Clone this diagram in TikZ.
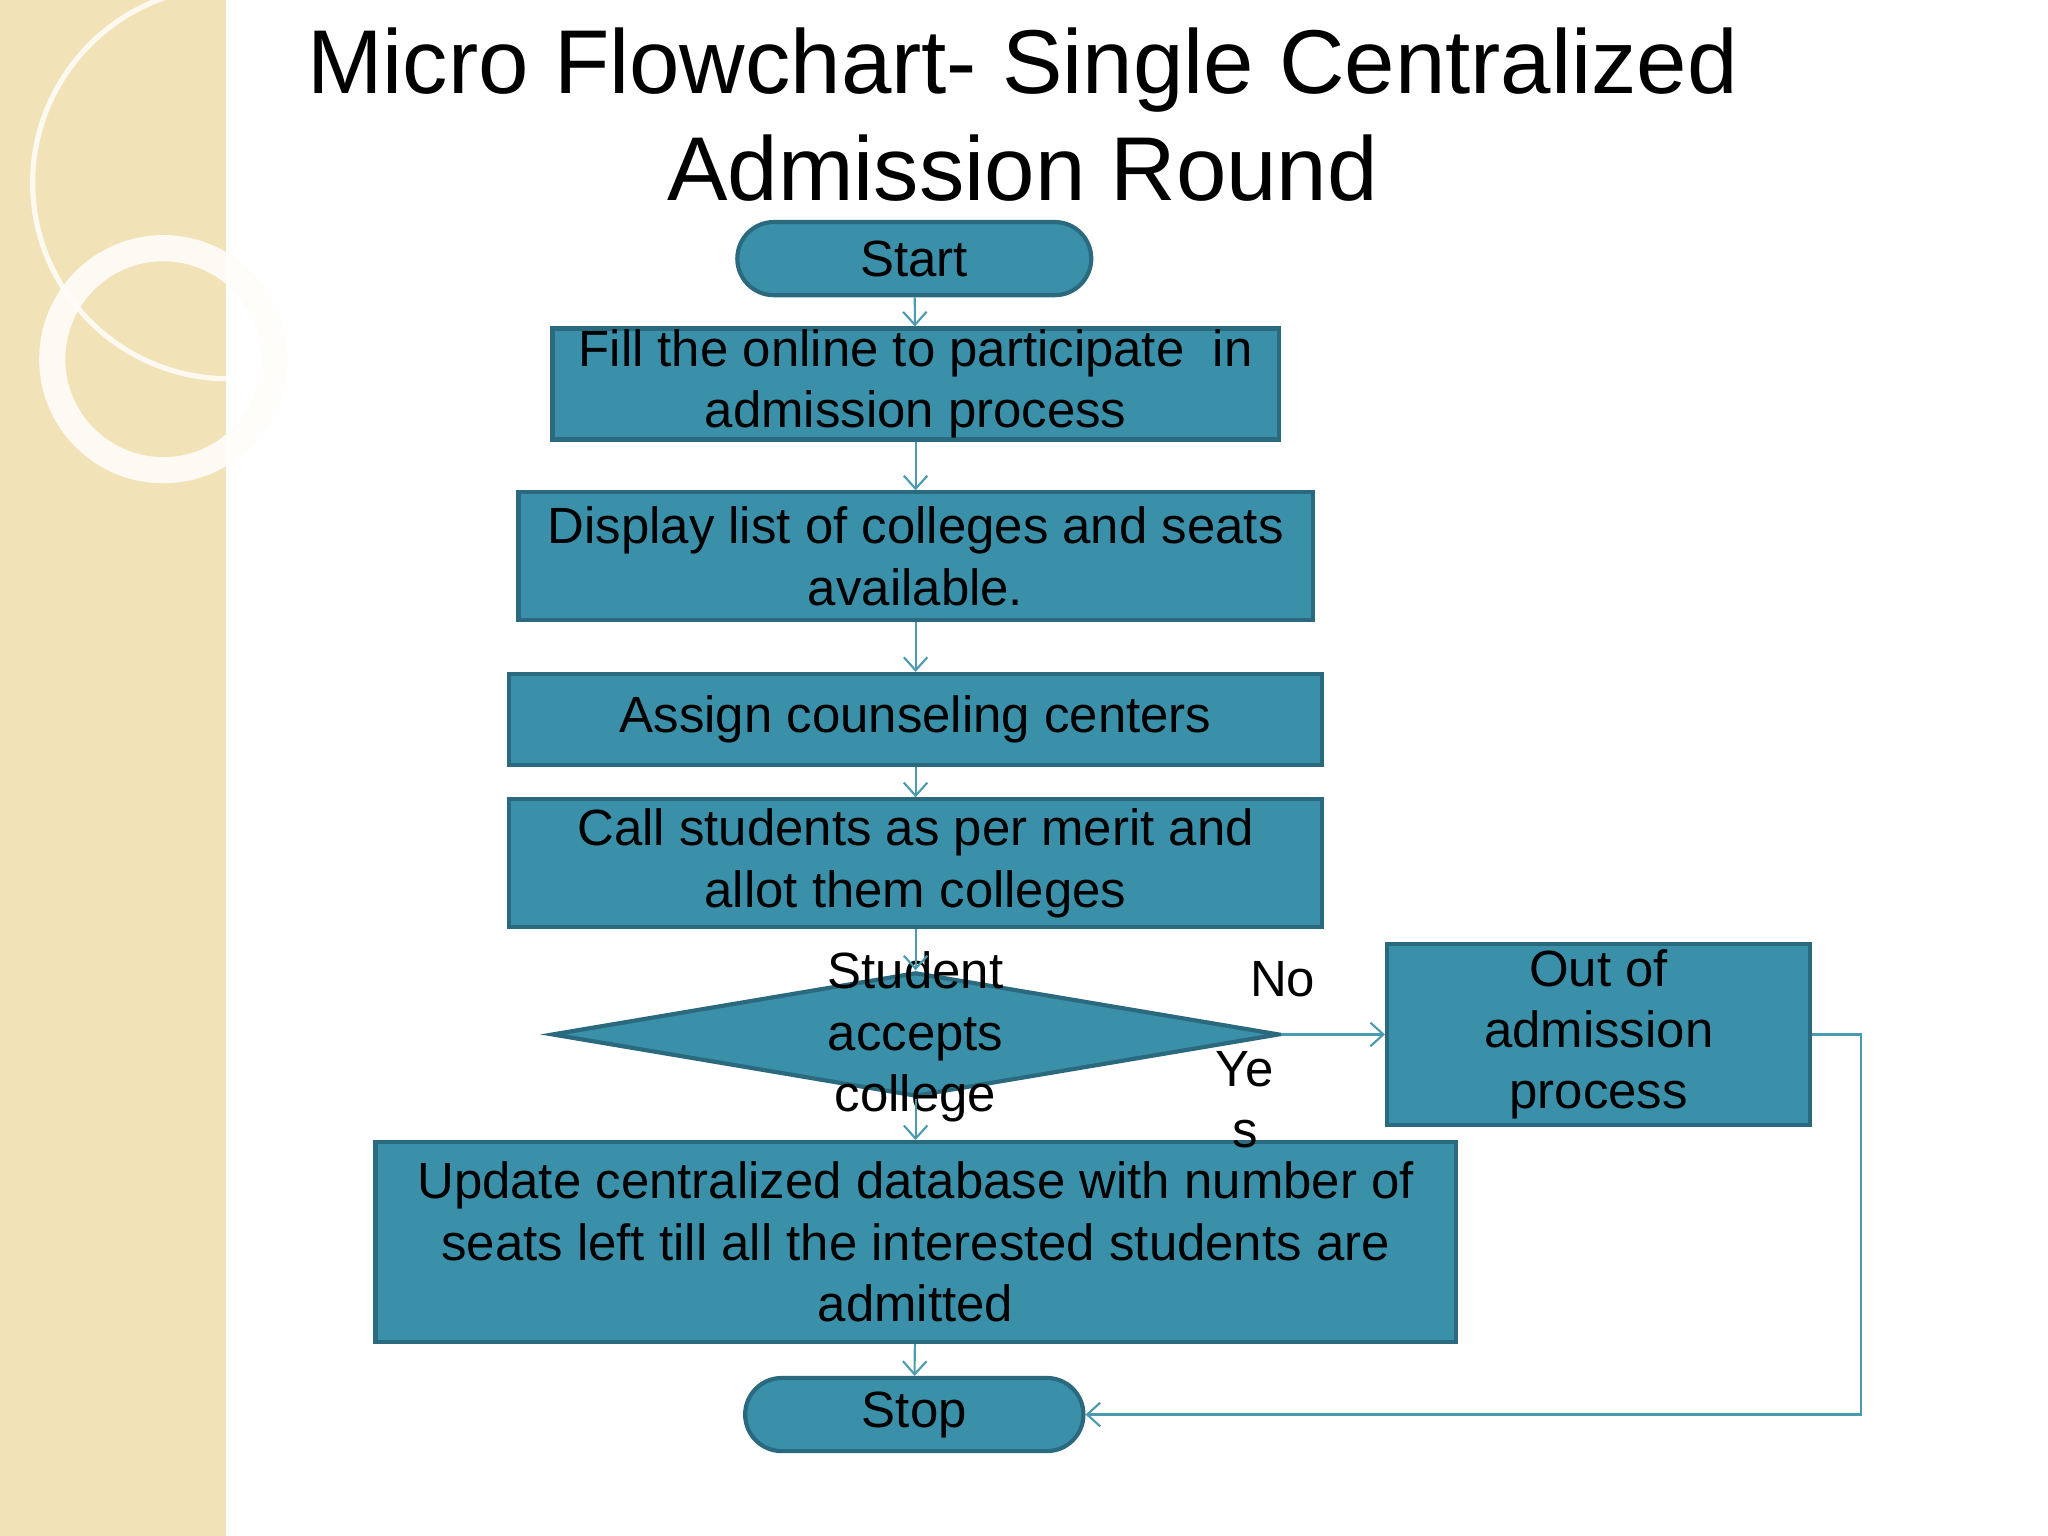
\documentclass[tikz,border=0pt]{standalone}
\usepackage{fontspec}
\setmainfont{Liberation Sans}
\usetikzlibrary{shapes.geometric,arrows.meta}
\definecolor{boxfill}{HTML}{3A90A9}
\definecolor{boxline}{HTML}{2B6A7E}
\definecolor{arr}{HTML}{4A9AB0}
\definecolor{beige}{HTML}{F2E2B8}
\begin{document}
\begin{tikzpicture}[x=0.5pt,y=-0.5pt,
  box/.style={draw=boxline,line width=1.6pt,fill=boxfill,inner sep=0pt,align=center,font=\fontsize{19.5}{23.5}\selectfont},
  term/.style={box,rounded corners=14pt},
  conn/.style={draw=arr,line width=0.8pt,-{Straight Barb[length=5pt,width=9pt]}},
  lbl/.style={font=\fontsize{19.5}{23.5}\selectfont}]
\useasboundingbox (0,0) rectangle (1568,1176);
\fill[white] (0,0) rectangle (1568,1176);
\fill[beige] (0,0) rectangle (173,1176);
\draw[white,line width=2pt,opacity=0.8] (175,140) circle (150);
\draw[white!92!beige,line width=10pt,opacity=0.9] (125,275) circle (85);
\node[font=\fontsize{34.7}{41}\selectfont,align=center] (title) at (783,88) {Micro Flowchart- Single Centralized\\Admission Round};
\node[term,minimum width=135.5pt,minimum height=28pt] (start) at (700,198) {Start};
\node[box,minimum width=278pt,minimum height=42.5pt] (fill) at (701,294) {Fill the online to participate\ \ in\\admission process};
\node[box,minimum width=304pt,minimum height=49pt] (disp) at (701,426) {Display list of colleges and seats\\available.};
\node[box,minimum width=311pt,minimum height=35pt] (assign) at (701,551) {Assign counseling centers};
\node[box,minimum width=311pt,minimum height=49pt] (call) at (701,661) {Call students as per merit and\\allot them colleges};
\node[draw=boxline,line width=1.6pt,fill=boxfill,diamond,aspect=5.8,minimum width=278.5pt,minimum height=47.5pt,inner sep=0pt] (dec) at (701,792) {};
\node[lbl,align=center] at (701,794) {Student\\accepts\\college};
\node[box,minimum width=162pt,minimum height=69.5pt] (out) at (1224,792) {Out of\\admission\\process};
\node[box,minimum width=413.5pt,minimum height=76.5pt] (upd) at (701,951) {Update centralized database with number of\\seats left till all the interested students are\\admitted};
\node[term,minimum width=129.5pt,minimum height=28pt] (stop) at (700,1083) {Stop};
\node[lbl] (no) at (982,750) {No};
\node[lbl,align=center] (yes) at (953,842) {Ye\\s};
\draw[conn] (start) -- (fill);
\draw[conn] (fill) -- (disp);
\draw[conn] (disp) -- (assign);
\draw[conn] (assign) -- (call);
\draw[conn] (call) -- (dec);
\draw[conn] (dec.east) -- (out.west);
\draw[conn] (dec) -- (upd);
\draw[conn] (upd) -- (stop);
\draw[conn] (out.east) -- ++(37,0) |- (stop.east);
\end{tikzpicture}
\end{document}
